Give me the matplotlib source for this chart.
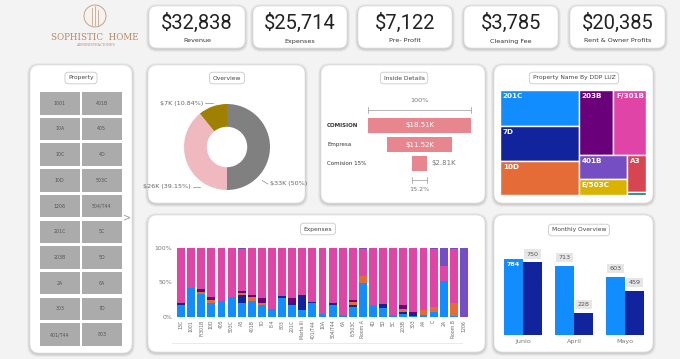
import matplotlib
matplotlib.use("Agg")
import matplotlib.pyplot as plt
from matplotlib.patches import FancyBboxPatch, Rectangle, Circle

# ---- data ----
kpi_values = [32838, 25714, 7122, 3785, 20385]
kpi_labels = ["Revenue", "Expenses", "Pre- Profit", "Cleaning Fee", "Rent & Owner Profits"]

property_left = ["1001", "10A", "10C", "10D", "1206", "201C", "203B", "2A", "303", "401/T44"]
property_right = ["401B", "405", "4D", "503C", "504/T44", "5C", "5D", "6A", "7D", "803"]

overview_values = [32838, 25714, 7122]
overview_labels = ["$33K (50%)", "$26K (39.15%)", "$7K (10.84%)"]
overview_colors = ["#808080", "#f0b9c0", "#a08000"]

funnel_stages = ["COMISION", "Empresa", "Comision 15%"]
funnel_values = [18.51, 11.52, 2.81]

tree_names = ["201C", "7D", "10D", "203B", "F/301B", "401B", "E/503C", "A3", "Other"]
tree_values = [2.80, 2.65, 2.65, 2.20, 2.10, 1.12, 0.78, 0.68, 0.06]
tree_colors = ["#118DFF", "#12239E", "#E66C37", "#6B007B", "#E044A7",
               "#744EC2", "#D9B300", "#D64550", "#197278"]

exp_cats = ["13C", "1001", "F/301B", "10D", "405", "503C", "A3", "401B", "7D", "E-4",
            "803", "201C", "Marta III", "401/T44", "10A", "504/T44", "6A", "E/503C",
            "Room A", "4D", "5D", "5C", "203B", "303", "A4", "C", "2A", "Room B", "1206"]
exp_light = [18, 42, 33, 21, 23, 29, 21, 23, 18, 11, 28, 18, 10, 20, 4, 18, 3, 15,
             50, 18, 13, 3, 5, 2, 3, 7, 52, 1, 0]
exp_dark = [3, 0, 0, 0, 0, 0, 11, 0, 0, 0, 3, 2, 22, 2, 0, 3, 0, 3,
            0, 0, 6, 0, 2, 3, 0, 0, 0, 0, 0]
exp_orange = [0, 0, 3, 3, 0, 0, 3, 6, 2, 0, 0, 0, 0, 0, 0, 0, 0, 4,
              9, 0, 0, 0, 5, 0, 7, 8, 0, 20, 0]
exp_plum = [0, 0, 5, 5, 0, 0, 2, 3, 7, 0, 0, 8, 0, 0, 0, 0, 0, 2,
            0, 0, 0, 0, 6, 2, 0, 0, 0, 0, 0]
exp_pink = [79, 58, 59, 71, 77, 71, 62, 68, 73, 89, 69, 72, 68, 78, 96, 79, 97, 76,
            39, 82, 81, 97, 82, 93, 90, 83, 22, 78, 0]
exp_violet = [0, 0, 0, 0, 0, 0, 1, 0, 0, 0, 0, 0, 0, 0, 0, 0, 0, 0,
              2, 0, 0, 0, 0, 0, 0, 2, 26, 1, 100]
exp_series = [exp_light, exp_dark, exp_orange, exp_plum, exp_pink, exp_violet]
exp_colors = ["#118DFF", "#12239E", "#E66C37", "#6B007B", "#E044A7", "#744EC2"]

months = ["Junio", "April", "Mayo"]
month_a = [784, 713, 603]
month_b = [750, 228, 459]

# ---- canvas ----
W, H = 680, 359
fig = plt.figure(figsize=(6.8, 3.59), dpi=100)
fig.patch.set_facecolor("#f3f3f3")
bg = fig.add_axes([0, 0, 1, 1])
bg.set_xlim(0, W)
bg.set_ylim(H, 0)
bg.axis("off")


def px_axes(x0, y0, x1, y1):
    ax = fig.add_axes([x0 / W, 1 - y1 / H, (x1 - x0) / W, (y1 - y0) / H])
    ax.patch.set_alpha(0)
    return ax


def card(x0, y0, x1, y1, r=9):
    for off, a in [(3, 0.04), (2, 0.05), (1, 0.07)]:
        bg.add_patch(FancyBboxPatch((x0 - off, y0 - off + 1), x1 - x0 + 2 * off, y1 - y0 + 2 * off,
                                    boxstyle=f"round,pad=0,rounding_size={r + off}",
                                    fc="black", ec="none", alpha=a))
    bg.add_patch(FancyBboxPatch((x0, y0), x1 - x0, y1 - y0,
                                boxstyle=f"round,pad=0,rounding_size={r}",
                                fc="white", ec="#e2e2e2", lw=0.5))


def title(x, y, s):
    bg.text(x, y, s, ha="center", va="center", fontsize=4.3, color="#444",
            bbox=dict(boxstyle="round,pad=0.55,rounding_size=0.5", fc="white", ec="#c8c8c8", lw=0.6))


# logo
bg.add_patch(Circle((95, 16), 11, fill=False, ec="#c3976f", lw=0.6))
for dx, top in [(-3, 8), (0, 6), (3, 10)]:
    bg.plot([95 + dx, 95 + dx], [top, 25], color="#c3976f", lw=0.5)
bg.text(95, 37, "SOPHISTIC  HOME", ha="center", va="center", fontsize=6.3,
        family="DejaVu Serif", color="#b98a64")
bg.text(95, 44.5, "ADMINISTRACIONES", ha="center", va="center", fontsize=2.4,
        family="DejaVu Serif", color="#b98a64")

# KPI cards
kpi_x = [(149, 245), (253, 347), (358, 452), (464, 558), (570, 665)]
for (x0, x1), v, lab in zip(kpi_x, kpi_values, kpi_labels):
    card(x0, 6, x1, 48, r=8)
    bg.text((x0 + x1) / 2, 23, f"${v:,}", ha="center", va="center", fontsize=14.5,
            color="#222", family=["Roboto", "DejaVu Sans"])
    bg.text((x0 + x1) / 2, 41, lab, ha="center", va="center", fontsize=4.6, color="#333")

# panels
card(30, 65, 132, 353)
card(148, 65, 305, 203)
card(321, 65, 485, 203)
card(494, 65, 653, 203)
card(148, 215, 485, 352)
card(494, 215, 653, 352)

# property slicer
title(81, 78, "Property")
for i, (a, b) in enumerate(zip(property_left, property_right)):
    y0 = 92 + i * 25.7
    for x0, s in [(40, a), (82, b)]:
        bg.add_patch(Rectangle((x0, y0), 39.5, 22.5, fc="#ababab", ec="none"))
        bg.text(x0 + 19.75, y0 + 11.25, s, ha="center", va="center", fontsize=3.4, color="#555")
bg.text(127, 218, ">", ha="center", va="center", fontsize=7, color="#999")

# overview donut
title(227, 78, "Overview")
ax = px_axes(148, 86, 306, 203)
s = 43.0
ax.pie(overview_values, colors=overview_colors, startangle=90, counterclock=False,
       radius=1, wedgeprops=dict(width=0.53, linewidth=0))
ax.set_xlim((148 - 227) / s, (306 - 227) / s)
ax.set_ylim(-(203 - 147) / s, (147 - 86) / s)
ax.set_aspect("auto")
ax.axis("off")
lab_kw = dict(fontsize=4.6, color="#666", va="center")
ax.plot([0.82, 0.95], [-0.78, -0.86], color="#888", lw=0.5)
ax.text(0.99, -0.86, overview_labels[0], ha="left", **lab_kw)
ax.plot([-0.80, -0.62], [-0.93, -0.93], color="#888", lw=0.5)
ax.text(-0.84, -0.93, overview_labels[1], ha="right", **lab_kw)
ax.plot([-0.52, -0.33], [1.02, 1.02], color="#888", lw=0.5)
ax.text(-0.56, 1.02, overview_labels[2], ha="right", **lab_kw)

# inside details funnel
title(404, 78, "Inside Details")
ax = px_axes(368, 95, 471, 195)
top = funnel_values[0]
ax.set_xlim(-top / 2, top / 2)
ax.set_ylim((195 - 125.5) / 19, -(125.5 - 95) / 19)
ax.axis("off")
ypos = list(range(len(funnel_values)))
ax.barh(ypos, funnel_values, left=[-v / 2 for v in funnel_values], height=0.8,
        color="#e8868f")
for i, v in enumerate(funnel_values):
    if i < 2:
        ax.text(0, i, f"${v:.2f}K", ha="center", va="center", fontsize=5, color="white")
    else:
        ax.text(v / 2 + 0.8, i, f"${v:.2f}K", ha="left", va="center", fontsize=5, color="#777")
for i, stage in enumerate(funnel_stages):
    bg.text(327, 125.5 + 19 * i, stage, ha="left", va="center", fontsize=4.0,
            color="#333", fontweight="bold" if i == 0 else "normal")
yb = -0.816
ax.plot([-top / 2, top / 2], [yb, yb], color="#999", lw=0.5, clip_on=False)
for xe in [-top / 2, top / 2]:
    ax.plot([xe, xe], [yb - 0.15, yb + 0.15], color="#999", lw=0.5, clip_on=False)
ax.text(0, -1.29, "100%", ha="center", va="center", fontsize=4.6, color="#777", clip_on=False)
last = funnel_values[-1]
yb2 = 2.87
ax.plot([-last / 2, last / 2], [yb2, yb2], color="#999", lw=0.5, clip_on=False)
for xe in [-last / 2, last / 2]:
    ax.plot([xe, xe], [yb2 - 0.15, yb2 + 0.15], color="#999", lw=0.5, clip_on=False)
ax.text(0, 3.39, f"{last / top * 100:.1f}%", ha="center", va="center", fontsize=4.6,
        color="#777", clip_on=False)

# treemap
title(574, 78, "Property Name By DDP LUZ")
ax = px_axes(500, 90, 646, 195)
ax.set_xlim(0, 1)
ax.set_ylim(1, 0)
ax.axis("off")
total = sum(tree_values)
left = tree_values[0:3]
top_row = tree_values[3:5]
col_a = tree_values[5:7]
col_b = tree_values[7:9]
rects = []
wl = sum(left) / total
y = 0
for v in left:
    h = v / sum(left)
    rects.append((0, y, wl, h))
    y += h
rest = total - sum(left)
ht = sum(top_row) / rest
x = wl
for v in top_row:
    w = v / sum(top_row) * (1 - wl)
    rects.append((x, 0, w, ht))
    x += w
bottom_total = sum(col_a) + sum(col_b)
x = wl
for col in (col_a, col_b):
    w = sum(col) / bottom_total * (1 - wl)
    y = ht
    for v in col:
        h = v / sum(col) * (1 - ht)
        rects.append((x, y, w, h))
        y += h
    x += w
for (x0, y0, w, h), name, c in zip(rects, tree_names, tree_colors):
    ax.add_patch(Rectangle((x0, y0), w, h, fc=c, ec="white", lw=1.0))
    if name != "Other":
        ax.text(x0 + 0.02, y0 + 0.03, name, ha="left", va="top", fontsize=5.2,
                color="white", fontweight="bold")

# expenses stacked 100%
title(318, 229, "Expenses")
ax = px_axes(175, 248, 470, 317)
xs = range(len(exp_cats))
bottom = [0] * len(exp_cats)
for vals, c in zip(exp_series, exp_colors):
    ax.bar(xs, vals, bottom=bottom, width=0.78, color=c, linewidth=0)
    bottom = [b + v for b, v in zip(bottom, vals)]
ax.set_ylim(0, 100)
ax.set_xlim(-0.6, len(exp_cats) - 0.4)
ax.set_yticks([0, 50, 100])
ax.set_yticklabels(["0%", "50%", "100%"], fontsize=4.5, color="#777")
ax.set_xticks(list(xs))
ax.set_xticklabels(exp_cats, rotation=90, fontsize=3.3, color="#666")
ax.tick_params(length=0, pad=2)
for sp in ax.spines.values():
    sp.set_visible(False)
bg.plot([172, 462], [343, 343], color="#e6e6e6", lw=0.6)

# monthly overview
title(579, 230, "Monthly Overview")
ax = px_axes(503, 250, 645, 335)
ax.set_xlim(-(523 - 503) / 51, (645 - 523) / 51)
ax.set_ylim(0, 85 / 0.0969)
bw = 19 / 51
mx = range(len(months))
ax.bar([i - bw / 2 for i in mx], month_a, width=bw, color="#118DFF", linewidth=0)
ax.bar([i + bw / 2 for i in mx], month_b, width=bw, color="#12239E", linewidth=0)
box = dict(boxstyle="square,pad=0.35", fc="#e6e6e6", ec="none")
for i, (a, b) in enumerate(zip(month_a, month_b)):
    if i == 0:
        ax.text(i - bw / 2, a - 55, f"{a}", ha="center", va="center", fontsize=4.6,
                color="white", fontweight="bold")
    else:
        ax.text(i - bw / 2, a + 85, f"{a}", ha="center", va="center", fontsize=4.6,
                color="#555", bbox=box)
    ax.text(i + bw / 2, b + 85, f"{b}", ha="center", va="center", fontsize=4.6,
            color="#555", bbox=box, clip_on=False)
ax.set_xticks(list(mx))
ax.set_xticklabels(months, fontsize=4.6, color="#777")
ax.set_yticks([])
ax.tick_params(length=0, pad=3)
for sp in ax.spines.values():
    sp.set_visible(False)

fig.savefig("out.png", dpi=100, facecolor=fig.get_facecolor())
